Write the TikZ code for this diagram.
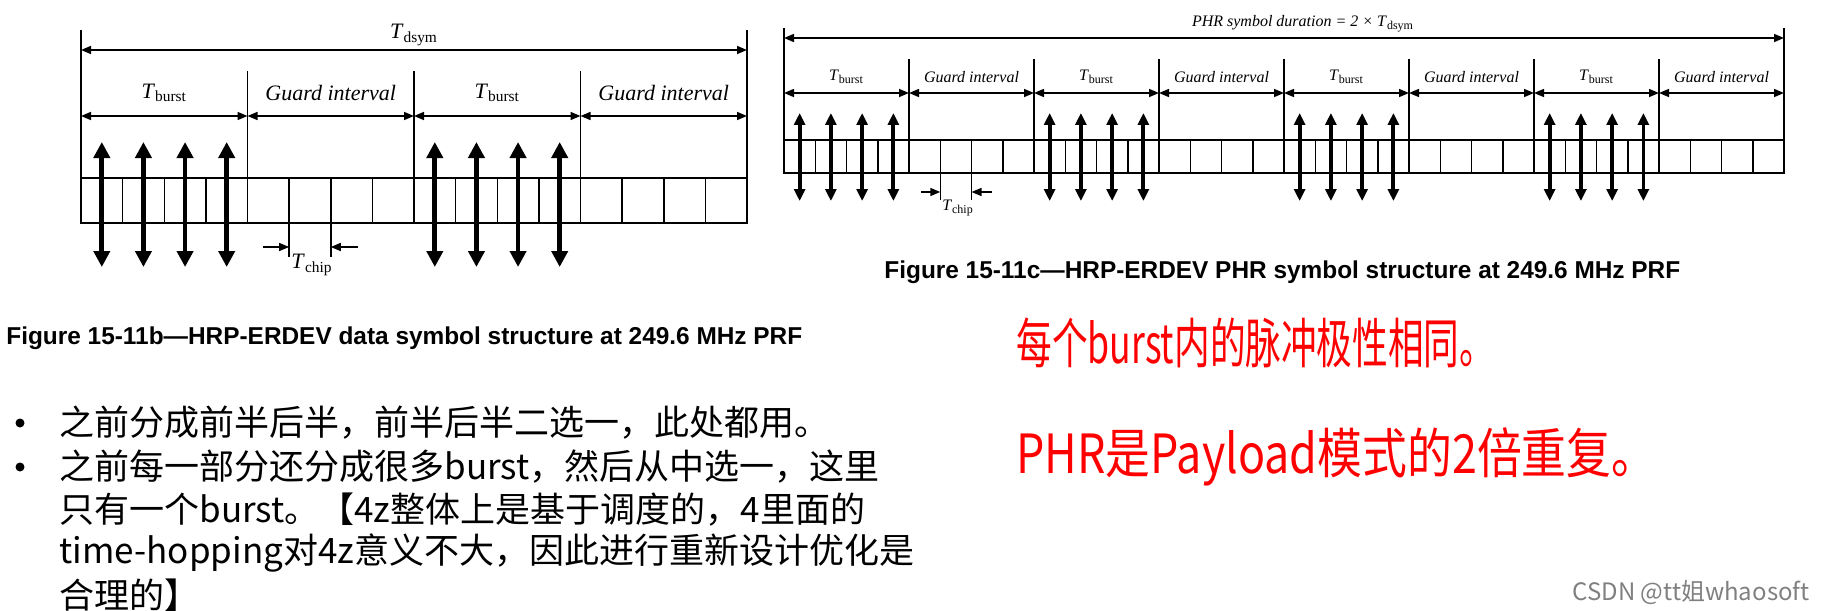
\documentclass[tikz,border=0pt]{standalone}
\usepackage{fontspec}
\setmainfont{Liberation Serif}
\newfontfamily\capfont{Liberation Sans}
\newfontfamily\cjk{Noto Sans CJK SC}
\usetikzlibrary{arrows.meta}
\tikzset{
  thin line/.style={line width=0.75pt},
  dim/.style={line width=0.75pt,{Triangle[length=5pt,width=4pt]}-{Triangle[length=5pt,width=4pt]}},
  pulseL/.style={line width=2.4pt,{Triangle[length=8pt,width=8pt]}-{Triangle[length=8pt,width=8pt]}},
  pulseR/.style={line width=1.9pt,{Triangle[length=6pt,width=5.5pt]}-{Triangle[length=6pt,width=5.5pt]}},
  onearrow/.style={line width=0.75pt,-{Triangle[length=5pt,width=4pt]}},
  lblL/.style={inner sep=0pt,font=\fontsize{11}{13}\selectfont},
  lblR/.style={inner sep=0pt,font=\fontsize{8}{10}\selectfont},
  capt/.style={inner sep=0pt,anchor=west,font=\capfont\bfseries\fontsize{12.2}{14}\selectfont},
  redtxt/.style={inner sep=0pt,anchor=west,text=red,font=\cjk\fontsize{27}{30}\selectfont},
  bul/.style={inner sep=0pt,anchor=west,font=\cjk\fontsize{17.5}{21}\selectfont},
  dot/.style={circle,fill=black,inner sep=0pt,minimum size=4.5pt},
}
\begin{document}
\begin{tikzpicture}[x=0.5pt,y=-0.5pt]
\useasboundingbox (0,0) rectangle (1824,610);
% ---------- left diagram ----------
\def\xa{81}\def\sa{166.5}
\draw[thin line] (\xa,30) -- (\xa,223);
\draw[thin line] (\xa+4*\sa,30) -- (\xa+4*\sa,223);
\draw[dim] (\xa,50) -- (\xa+4*\sa,50);
\node[lblL] (tdsym) at (\xa+2*\sa,35) {\textit{T}\textsubscript{dsym}};
\foreach \i in {1,2,3} \draw[thin line] (\xa+\i*\sa,71) -- (\xa+\i*\sa,223);
\foreach \i in {0,1,2,3} \draw[dim] (\xa+\i*\sa,116) -- (\xa+\i*\sa+\sa,116);
\node[lblL] (lb1) at (\xa+0.5*\sa,93) {\textit{T}\textsubscript{burst}};
\node[lblL] (lg1) at (\xa+1.5*\sa,93) {\textit{Guard interval}};
\node[lblL] (lb2) at (\xa+2.5*\sa,93) {\textit{T}\textsubscript{burst}};
\node[lblL] (lg2) at (\xa+3.5*\sa,93) {\textit{Guard interval}};
\draw[thin line] (\xa,178) rectangle (\xa+4*\sa,223);
\foreach \k in {1,...,15} \draw[thin line] (\xa+\k*\sa/4,178) -- (\xa+\k*\sa/4,223);
\foreach \s in {0,2} \foreach \c in {0,1,2,3}
  \draw[pulseL] (\xa+\s*\sa+\c*\sa/4+\sa/8,142) -- (\xa+\s*\sa+\c*\sa/4+\sa/8,267);
\draw[thin line] (\xa+5*\sa/4,223) -- (\xa+5*\sa/4,257);
\draw[thin line] (\xa+6*\sa/4,223) -- (\xa+6*\sa/4,257);
\draw[onearrow] (263,247) -- (\xa+5*\sa/4,247);
\draw[onearrow] (358,247) -- (\xa+6*\sa/4,247);
\node[lblL] (tchipL) at (312,265) {\textit{T}\textsubscript{chip}};
% ---------- right diagram ----------
\def\xb{784}\def\sb{125}
\draw[thin line] (\xb,28) -- (\xb,173);
\draw[thin line] (\xb+8*\sb,28) -- (\xb+8*\sb,173);
\draw[dim] (\xb,38) -- (\xb+8*\sb,38);
\node[lblR,fill=white,inner sep=1pt] (phr) at (1303,24) {\textit{PHR symbol duration = 2 × T}\textsubscript{dsym}};
\foreach \i in {1,...,7} \draw[thin line] (\xb+\i*\sb,59) -- (\xb+\i*\sb,173);
\foreach \i in {0,...,7} \draw[dim] (\xb+\i*\sb,93) -- (\xb+\i*\sb+\sb,93);
\foreach \i in {0,2,4,6} {
  \node[lblR] at (\xb+\i*\sb+0.5*\sb,77) {\textit{T}\textsubscript{burst}};
  \node[lblR] at (\xb+\i*\sb+1.5*\sb,77) {\textit{Guard interval}};
}
\draw[thin line] (\xb,140) rectangle (\xb+8*\sb,173);
\foreach \k in {1,...,31} \draw[thin line] (\xb+\k*\sb/4,140) -- (\xb+\k*\sb/4,173);
\foreach \s in {0,2,4,6} \foreach \c in {0,1,2,3}
  \draw[pulseR] (\xb+\s*\sb+\c*\sb/4+\sb/8,113) -- (\xb+\s*\sb+\c*\sb/4+\sb/8,201);
\draw[thin line] (\xb+5*\sb/4,173) -- (\xb+5*\sb/4,200);
\draw[thin line] (\xb+6*\sb/4,173) -- (\xb+6*\sb/4,200);
\draw[onearrow] (921,192) -- (\xb+5*\sb/4,192);
\draw[onearrow] (992,192) -- (\xb+6*\sb/4,192);
\node[lblR] (tchipR) at (958,208) {\textit{T}\textsubscript{chip}};
% ---------- captions ----------
\node[capt] (capb) at (6,338) {Figure 15-11b—HRP-ERDEV data symbol structure at 249.6 MHz PRF};
\node[capt] (capc) at (884,272) {Figure 15-11c—HRP-ERDEV PHR symbol structure at 249.6 MHz PRF};
% ---------- red notes ----------
\node[redtxt] (r1) at (1016,343) {\scalebox{0.66}[1]{每个burst内的脉冲极性相同。}};
\node[redtxt] (r2) at (1016,457) {\scalebox{0.83}[1]{PHR是Payload模式的2倍重复。}};
% ---------- bullets ----------
\node[dot] (b1) at (20,423) {};
\node[dot] (b2) at (20,467) {};
\node[bul] (l1) at (59,423) {之前分成前半后半，前半后半二选一，此处都用。};
\node[bul] (l2) at (59,467) {之前每一部分还分成很多burst，然后从中选一，这里};
\node[bul] (l3) at (59,510) {只有一个burst。【4z整体上是基于调度的，4里面的};
\node[bul] (l4) at (59,553) {time-hopping对4z意义不大，因此进行重新设计优化是};
\node[bul] (l5) at (59,595) {合理的】};
\node[inner sep=0pt,anchor=east,text=gray,font=\cjk\fontsize{12}{14}\selectfont] (wm) at (1810,592) {CSDN @tt姐whaosoft};
\end{tikzpicture}
\end{document}
